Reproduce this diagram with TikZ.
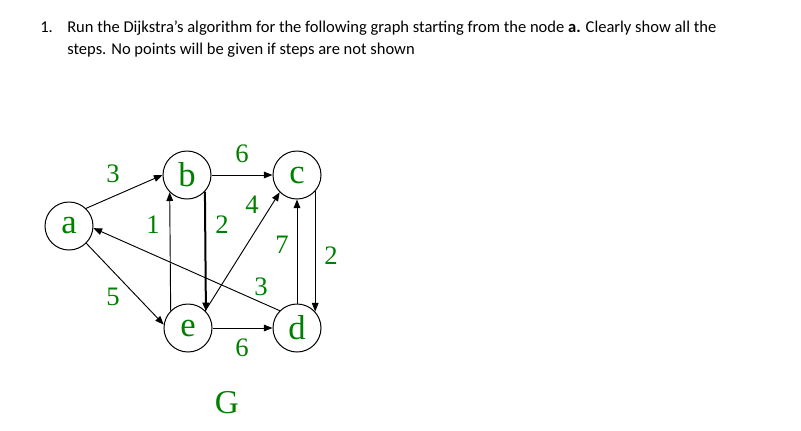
\documentclass[tikz,border=0pt]{standalone}
\usepackage{fontspec}
\setmainfont{Liberation Serif}
\newfontfamily\calib{Carlito}
\usetikzlibrary{arrows.meta}
\definecolor{lblgreen}{RGB}{0,128,0}
\begin{document}
\begin{tikzpicture}[x=0.75pt,y=-0.75pt,
  vtx/.style={circle,draw,line width=0.75pt,minimum size=36pt,inner sep=0pt,
    text=lblgreen,font=\fontsize{26}{26}\selectfont},
  wt/.style={text=lblgreen,font=\fontsize{20}{20}\selectfont,inner sep=0pt},
  edge/.style={line width=0.7pt,-{Triangle[length=6.5pt,width=5pt]}},
  para/.style={font=\calib\fontsize{12.4}{15}\selectfont,inner sep=0pt,anchor=base west}]
\useasboundingbox (0,0) rectangle (801,430);
\node[para] (num) at (40,32.5) {1.};
\node[para] (l1) at (67,32.5) {Run the Dijkstra’s algorithm for the following graph starting from the node \textbf{a.} Clearly show all the};
\node[para] (l2) at (67,54) {steps. No points will be given if steps are not shown};

\node[vtx] (a) at (69,226) {a};
\node[vtx] (b) at (187,175) {b};
\node[vtx] (c) at (297,175) {c};
\node[vtx] (e) at (188,328) {e};
\node[vtx] (d) at (297,328) {d};

\draw[edge] (a.46) -- (b.west);
\draw[edge] (a.-45) -- (e.172);
\draw[edge] (b.east) -- (c.west);
\draw[edge] (e.135) -- (b.225);
\draw[edge,line width=1.5pt] (b.-43) -- (e.43);
\draw[edge] (e.45) -- (c.225);
\draw[edge] (d.135) -- (a.-5);
\draw[edge] (d.north) -- (c.south);
\draw[edge] (c.-42) -- (d.42);
\draw[edge] (e.east) -- (d.west);

\node[wt] (w1) at (113,174) {3};
\node[wt] (w2) at (113,297) {5};
\node[wt] (w3) at (242,154) {6};
\node[wt] (w4) at (153,225) {1};
\node[wt] (w5) at (222,225) {2};
\node[wt] (w6) at (252,205) {4};
\node[wt] (w7) at (282,245) {7};
\node[wt] (w8) at (331,256) {2};
\node[wt] (w9) at (261,287) {3};
\node[wt] (w10) at (242,348) {6};
\node[text=lblgreen,font=\fontsize{25}{25}\selectfont,inner sep=0pt] (G) at (227,403) {G};
\end{tikzpicture}
\end{document}
